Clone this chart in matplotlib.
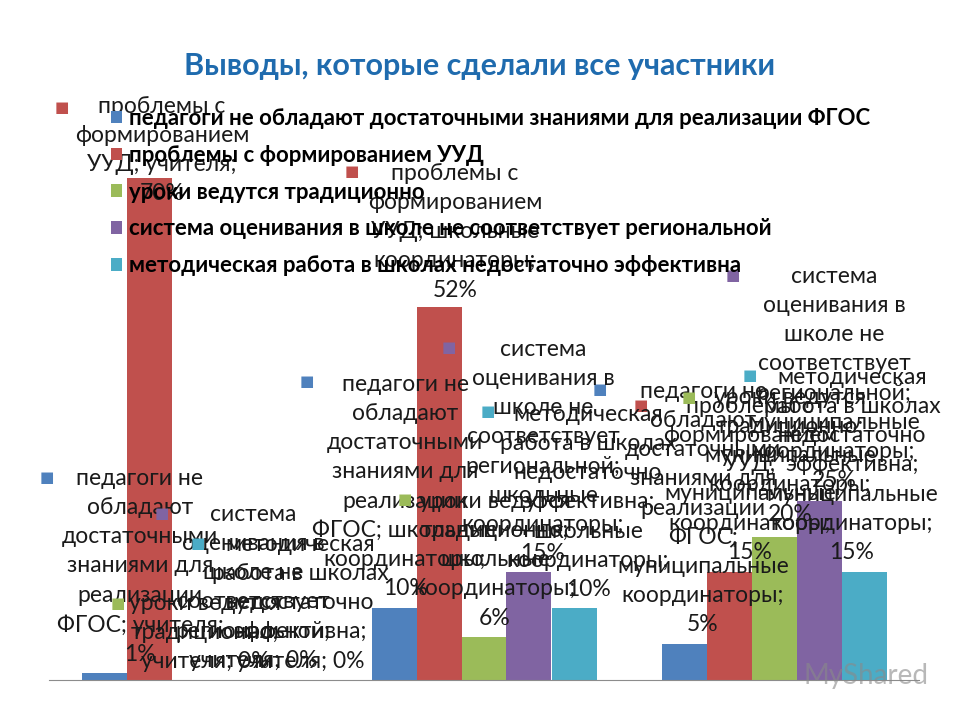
import textwrap
import matplotlib
matplotlib.use("Agg")
import matplotlib.pyplot as plt
import numpy as np

plt.rcParams['font.family'] = ['Lato', 'DejaVu Sans']

# ── data ─────────────────────────────────────────────────────────────────────
title = "Выводы, которые сделали все участники"
categories = ["учителя", "школьные координаторы", "муниципальные координаторы"]
series = [
    "педагоги не обладают достаточными знаниями для реализации ФГОС",
    "проблемы с формированием УУД",
    "уроки ведутся традиционно",
    "система оценивания в школе не соответствует региональной",
    "методическая работа в школах недостаточно эффективна",
]
# values in %, rows = series, columns = categories
pedagogi   = [1, 10, 5]
problemy   = [70, 52, 15]
uroki      = [0, 6, 20]
sistema    = [0, 15, 25]
metodiches = [0, 10, 15]
values = [pedagogi, problemy, uroki, sistema, metodiches]

colors = ['#4F81BD', '#C0504D', '#9BBB59', '#8064A2', '#4BACC6']

# ── label placement (pixels, from top-left): centre x of text, y of first line,
#    then key square x, y ── one row per series, one entry per category
label_pos = [
    [(140, 479, 47, 477), (405, 385, 307, 382), (703, 392, 600, 390)],
    [(162, 107, 62, 107), (455, 174, 352, 172), (750, 407, 641, 405)],
    [(205, 604, 118, 604), (495, 502, 405, 500), (790, 398, 689, 398)],
    [(253, 515, 162, 513), (543, 350, 449, 347), (834, 277, 733, 275)],
    [(300, 545, 198, 543), (588, 415, 488, 412), (852, 378, 750, 376)],
]

W, H = 960, 720
fig = plt.figure(figsize=(W / 100, H / 100), dpi=100)

def fx(x):
    return x / W

def fy(y):
    return 1 - y / H

ax = fig.add_axes([fx(49), fy(680), (919 - 49) / W, 80 * 7.17 / H])

x = np.arange(len(categories))
bw = 45 / 290
bars = []
for i, (name, vals, c) in enumerate(zip(series, values, colors)):
    b = ax.bar(x + (i - 2) * bw, vals, bw, color=c, label=name, zorder=2)
    bars.append(b)

ax.set_xlim(-0.5, len(categories) - 0.5)
ax.set_ylim(0, 80)
for s in ['top', 'right', 'left']:
    ax.spines[s].set_visible(False)
ax.spines['bottom'].set_color('#8C8C8C')
ax.set_xticks([])
ax.set_yticks([])
ax.patch.set_alpha(0)

# title
fig.text(0.5, fy(66), title, ha='center', va='center', fontsize=22,
         fontweight='bold', color='#1F6BAE')

# legend
fig.legend(handles=bars, loc='upper left', bbox_to_anchor=(fx(111), fy(108)),
           frameon=False, prop={'size': 16, 'weight': 'bold'},
           handlelength=0.5, handleheight=0.5, handletextpad=0.3,
           labelspacing=0.71, borderaxespad=0, borderpad=0)

# data labels with legend keys
for i, (name, vals, c) in enumerate(zip(series, values, colors)):
    for j, cat in enumerate(categories):
        txt = textwrap.fill(f"{name}; {cat}; {vals[j]}%", width=15)
        cx, ly, mx, my = label_pos[i][j]
        fig.text(fx(cx), fy(ly - 11), txt, ha='center', va='top',
                 multialignment='center', fontsize=16.5, color='#1a1a1a',
                 linespacing=1.48)
        fig.text(fx(mx), fy(my), '■', ha='center', va='center', fontsize=11,
                 color=c, family='DejaVu Sans')

# watermark
fig.text(fx(866), fy(676), 'MyShared', ha='center', va='center', fontsize=20,
         color='#8a8a8a', alpha=0.6)

fig.savefig('out.png', dpi=100)
